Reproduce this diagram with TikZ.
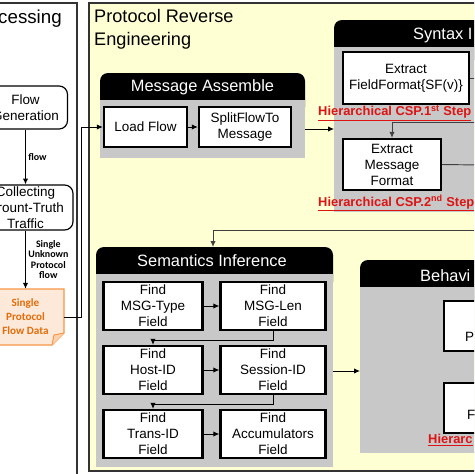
\documentclass[tikz,border=0pt]{standalone}
\usepackage{fontspec}
\setmainfont{Liberation Sans}
\newfontfamily\calibri{Carlito}
\usepackage{xcolor}
\usepackage{tikz}
\usetikzlibrary{arrows.meta, positioning, calc}
\definecolor{panelyellow}{RGB}{255,255,212}
\definecolor{groupgray}{RGB}{200,200,200}
\definecolor{noteorange}{RGB}{247,150,70}
\definecolor{notefill}{RGB}{253,233,217}
\definecolor{notetext}{RGB}{228,108,10}
\definecolor{cspred}{RGB}{220,20,20}

\begin{document}
\begin{tikzpicture}[x=0.03cm, y=-0.03cm,
  procbox/.style={draw, line width=2pt, fill=white, align=center, inner sep=1pt, font=\fontsize{11.5}{13.6}\selectfont},
  flowbox/.style={draw, line width=1pt, fill=white, rounded corners=0.25cm, align=center, inner sep=1pt, font=\fontsize{11.5}{13.6}\selectfont},
  headtext/.style={text=white, inner sep=0pt, font=\fontsize{14}{16}\selectfont},
  lbl/.style={align=center, inner sep=2pt, font=\calibri\fontsize{8.5}{8.8}\selectfont\bfseries},
  csp/.style={text=cspred, inner sep=0pt, font=\fontsize{11}{12}\selectfont\bfseries},
  arr/.style={-{Latex[length=5pt,width=4.5pt]}, line width=0.8pt},
  link/.style={line width=0.8pt, draw=black!75}]
\useasboundingbox (0,0) rectangle (474,474);
\clip (0,0) rectangle (474,474);
\fill[white] (0,0) rectangle (474,474);

% Pre-processing panel
\draw[line width=1pt, draw=black!80, fill=white] (-10,3) rectangle (77,490);
\node[anchor=base east, inner sep=0pt, font=\fontsize{16}{19.6}\selectfont] (pretitle) at (62,23) {cessing};

\node[flowbox, minimum width=2.52cm, minimum height=1.29cm] (flowgen) at (25.5,107.5) {Flow\\Generation};
\node[flowbox, minimum width=2.85cm, minimum height=1.35cm] (collect) at (25.5,207.5) {Collecting\\Grount-Truth\\Traffic};

% note shape
\draw[draw=noteorange, fill=notefill, line width=1pt] (-13,289) -- (64,289) -- (64,333) -- (52,345) -- (-13,345) -- cycle;
\draw[draw=noteorange, fill=notefill!70!noteorange, line width=0.8pt] (64,333) -- (54,335) -- (52,345);
\node[minimum width=2.31cm, minimum height=1.68cm, align=center, text=notetext, font=\calibri\fontsize{9.5}{12}\selectfont\bfseries] (spfd) at (25.5,317) {Single\\Protocol\\Flow Data};

% Protocol reverse engineering panel
\draw[line width=1pt, draw=black!80, fill=panelyellow] (89,3) rectangle (490,471);
\node[anchor=north west, align=left, inner sep=0pt, font=\fontsize{15.5}{19.6}\selectfont] (pretitle2) at (94,9) {Protocol Reverse\\Engineering};

% Message assemble
\fill[black, rounded corners=0.24cm] (100,73) rectangle (305,115);
\fill[groupgray] (100,100) rectangle (305,158);
\node[headtext] (mahead) at (202.5,87) {Message Assemble};
\node[procbox, minimum width=2.49cm, minimum height=1.2cm] (loadflow) at (145.5,127) {Load Flow};
\node[procbox, minimum width=2.76cm, minimum height=1.2cm] (splitflow) at (245,127) {SplitFlowTo\\Message};

% Syntax
\fill[black, rounded corners=0.24cm] (334,20) rectangle (500,60);
\fill[groupgray] (334,47) rectangle (500,212);
\node[headtext, anchor=base west] (syhead) at (413,39) {Syntax I};
\node[procbox, minimum width=3.78cm, minimum height=1.56cm] (extractff) at (406,78) {Extract\\FieldFormat\{SF(v)\}};
\node[procbox, minimum width=2.94cm, minimum height=1.53cm] (extractmsg) at (392,164.5) {Extract\\Message\\Format};
\node[csp, anchor=west] (csp1) at (318,113) {\underline{Hierarchical CSP.1\textsuperscript{st} Step}};
\node[csp, anchor=west] (csp2) at (318,203) {\underline{Hierarchical CSP.2\textsuperscript{nd} Step}};

% Semantics
\fill[black, rounded corners=0.24cm] (96,247) rectangle (333,290);
\fill[groupgray] (96,274) rectangle (333,467);
\node[headtext] (sehead) at (212,261) {Semantics Inference};
\node[procbox, minimum width=2.97cm, minimum height=1.44cm] (msgtype) at (153,306) {Find\\MSG-Type\\Field};
\node[procbox, minimum width=3.15cm, minimum height=1.44cm] (msglen) at (273,306) {Find\\MSG-Len\\Field};
\node[procbox, minimum width=2.97cm, minimum height=1.44cm] (hostid) at (153,370) {Find\\Host-ID\\Field};
\node[procbox, minimum width=3.15cm, minimum height=1.44cm] (sessionid) at (273,370) {Find\\Session-ID\\Field};
\node[procbox, minimum width=2.97cm, minimum height=1.44cm] (transid) at (153,434) {Find\\Trans-ID\\Field};
\node[procbox, minimum width=3.15cm, minimum height=1.44cm] (accum) at (273,434) {Find\\Accumulators\\Field};

% Behavior
\fill[black, rounded corners=0.24cm] (360,260) rectangle (500,300);
\fill[groupgray] (360,287) rectangle (500,453);
\node[headtext, anchor=base west] (behead) at (420,281) {Behavi};
\node[procbox, minimum width=2.88cm, minimum height=1.5cm] (beh1) at (492,326) {};
\node[inner sep=0pt, anchor=west, font=\fontsize{11.5}{13.6}\selectfont] (beh1txt) at (465,337) {P};
\node[procbox, minimum width=2.88cm, minimum height=1.5cm] (beh2) at (492,408) {};
\node[inner sep=0pt, anchor=west, font=\fontsize{11.5}{13.6}\selectfont] (beh2txt) at (467,415) {F};
\node[csp, anchor=west] (csp3) at (428,440) {\underline{Hierarc}};

% connectors
\draw[arr] (flowgen.south) -- node[lbl, right] {flow} (collect.north);
\draw[arr] (collect.south) -- node[lbl, right] {Single\\Unknown\\Protocol\\flow} (spfd.north);
\coordinate (feed) at (81,317);
\draw[arr] (spfd.east) -- (feed) |- (loadflow.west);
\draw[arr] (loadflow) -- (splitflow);
\coordinate (ma-out) at (305,129);
\coordinate (sy-in) at (334,129);
\draw[arr] (ma-out) -- (sy-in);
\coordinate (ff-out) at (480,78);
\draw[link] (extractff.east) -- (ff-out);
\coordinate (ff-back) at (480,122);
\draw[link, arr] (ff-back) -| (extractmsg.north);
\coordinate (em-out) at (480,165);
\draw[link] (extractmsg.east) -- (em-out);
\coordinate (sy-back) at (480,230);
\coordinate (se-top) at (213,247);
\draw[link, arr] (sy-back) -| (se-top);
\draw[arr] (msgtype) -- (msglen);
\draw[arr] (msglen.south) -- ++(0,9) -| (hostid.north);
\draw[arr] (hostid) -- (sessionid);
\draw[arr] (sessionid.south) -- ++(0,9) -| (transid.north);
\draw[arr] (transid) -- (accum);
\coordinate (se-out) at (333,371);
\coordinate (be-in) at (360,371);
\draw[arr] (se-out) -- (be-in);
\end{tikzpicture}
\end{document}
